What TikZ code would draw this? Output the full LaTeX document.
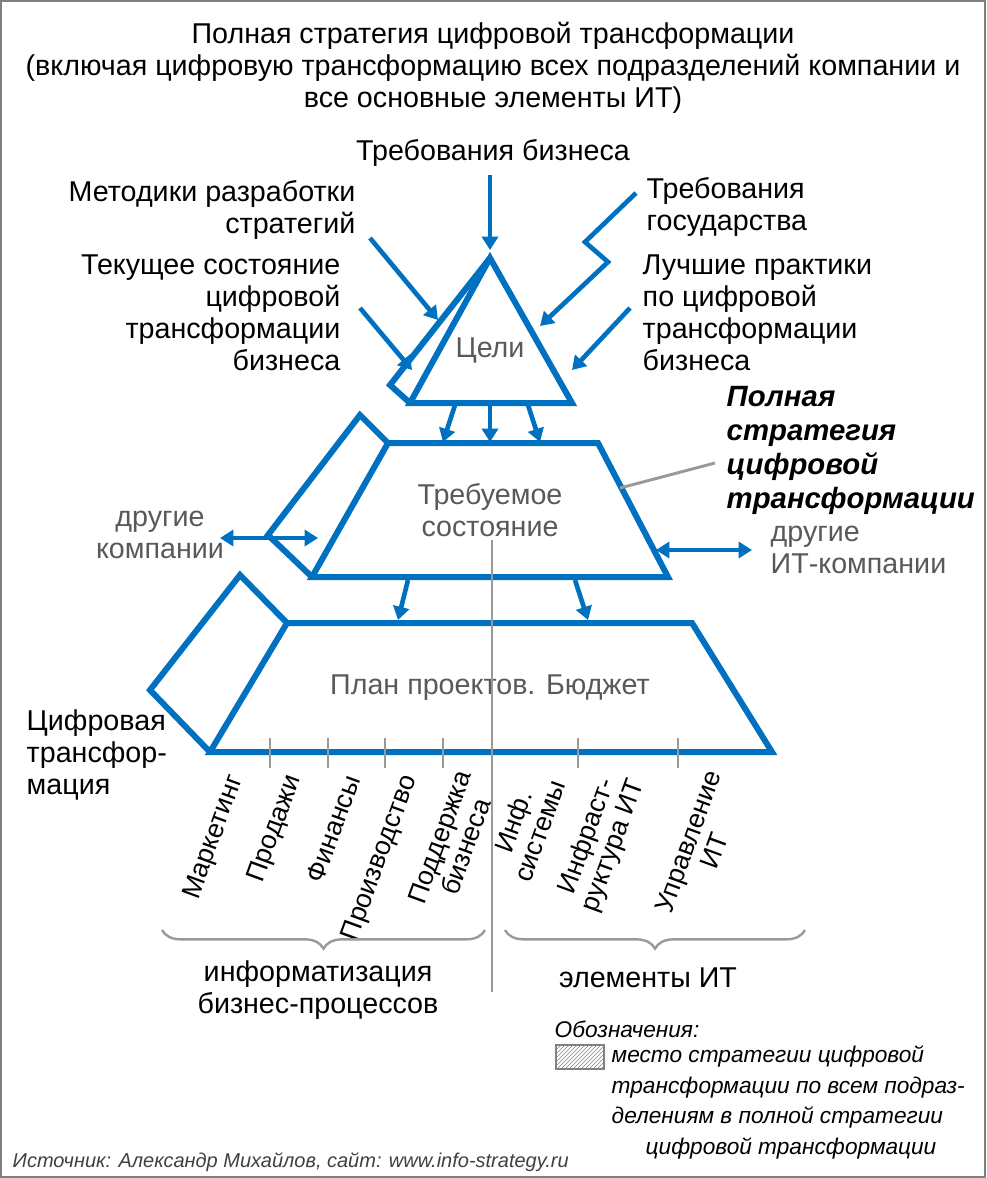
\documentclass[tikz,border=0pt]{standalone}
\usepackage{fontspec}
\setmainfont{Liberation Sans}
\usetikzlibrary{arrows.meta,decorations.pathreplacing,patterns}
\definecolor{bl}{RGB}{0,112,192}
\begin{document}
\begin{tikzpicture}[x=0.75pt,y=-0.75pt,
 shp/.style={draw=bl,line width=4.5pt,line join=miter},
 arr/.style={draw=bl,line width=3.5pt,-{Triangle[length=10pt,width=12pt]}},
 darr/.style={draw=bl,line width=3.5pt,{Triangle[length=10pt,width=12pt]}-{Triangle[length=10pt,width=12pt]}},
 gl/.style={draw=gray!80,line width=2.2pt},
 txt/.style={font=\fontsize{21.5}{24}\selectfont,align=center},
 gtxt/.style={font=\fontsize{21.5}{24}\selectfont,align=center,text=black!65},
 rot/.style={font=\fontsize{20}{21}\selectfont,align=center,rotate=70,anchor=east}]
\draw[gray,line width=0.8pt] (1,1) rectangle (985,1177);
\useasboundingbox (0,0) rectangle (986,1178);
\node[txt] (title) at (493,68) {Полная стратегия цифровой трансформации\\(включая цифровую трансформацию всех подразделений компании и\\все основные элементы ИТ)};
% shapes
\draw[shp] (490,258) -- (410,403) -- (572,403) -- cycle;
\draw[shp] (490,258) -- (390,385) -- (410,403);
\draw[shp] (388,443) -- (598,443) -- (668,577) -- (312,577) -- cycle;
\draw[shp] (388,443) -- (360,415) -- (268,535) -- (312,577);
\draw[shp] (287,623) -- (692,623) -- (772,752) -- (210,752) -- cycle;
\draw[shp] (287,623) -- (240,575) -- (150,690) -- (210,752);
\node[gtxt] (goal) at (490,350) {Цели};
\node[gtxt] (req) at (490,510) {Требуемое\\состояние};
\node[gtxt] (plan) at (490,688) {План проектов. Бюджет};
% gray
\draw[gl] (492,540) -- (492,992);
\foreach \x in {270,328,385,443,578,678}{\draw[gl] (\x,738) -- (\x,768);}
\coordinate (gp1) at (620,488); \coordinate (gp2) at (715,463);
\draw[gl] (gp1) -- (gp2);
% arrows
\node[txt] (tb) at (493,153) {Требования бизнеса};
\draw[arr] (490,175) -- (490,250);
\node[txt,align=right,anchor=east] (met) at (360,210) {Методики разработки\\стратегий};
\node[txt,align=right,anchor=east] (cur) at (345,313) {Текущее состояние\\цифровой\\трансформации\\бизнеса};
\draw[arr] (370,238) -- (438,320);
\draw[arr] (360,308) -- (412,370);
\node[txt,align=left,anchor=west] (gov) at (642,207) {Требования\\государства};
\draw[arr] (636,193) -- (585,242) -- (608,262) -- (540,326);
\node[txt,align=left,anchor=west] (best) at (638,313) {Лучшие практики\\по цифровой\\трансформации\\бизнеса};
\draw[arr] (630,308) -- (572,370);
\draw[arr] (455,405) -- (443,442);
\draw[arr] (490,405) -- (490,442);
\draw[arr] (528,405) -- (540,442);
\draw[arr] (408,580) -- (398,620);
\draw[arr] (575,580) -- (588,620);
\node[gtxt] (oc) at (160,535) {другие\\компании};
\draw[darr] (220,538) -- (318,538);
\node[gtxt,align=left,anchor=west] (oit) at (766,550) {другие\\ИТ-компании};
\draw[darr] (656,550) -- (752,550);
\node[font=\fontsize{22}{25.5}\selectfont\bfseries\itshape,align=left,anchor=west] (full) at (722,450) {Полная\\стратегия\\цифровой\\трансформации};
\node[txt,align=left,anchor=west] (dt) at (22,755) {Цифровая\\трансфор-\\мация};
% bottom labels
\node[rot] at (238,772) {Маркетинг};
\node[rot] at (296,772) {Продажи};
\node[rot] at (354,772) {Финансы};
\node[rot] at (412,772) {Производство};
\node[rot] at (478,772) {Поддержка\\бизнеса};
\node[rot] at (546,772) {Инф.\\системы};
\node[rot] at (626,772) {Инфраст-\\руктура ИТ};
\node[rot] at (728,772) {Управление\\ИТ};
\draw[gray!80,line width=1.8pt,decorate,decoration={brace,amplitude=14pt,mirror}] (162,930) -- (485,930);
\draw[gray!80,line width=1.8pt,decorate,decoration={brace,amplitude=14pt,mirror}] (505,930) -- (805,930);
\node[txt] (inf) at (318,990) {информатизация\\бизнес-процессов};
\node[txt] (eit) at (648,978) {элементы ИТ};
% legend
\node[font=\fontsize{17}{20}\selectfont\itshape,anchor=west] (leg) at (550,1029) {Обозначения:};
\draw[gray,line width=1pt,pattern=north east lines,pattern color=gray] (556,1045) rectangle (604,1069);
\node[font=\fontsize{17}{23}\selectfont\itshape,align=left,anchor=north west] (legt) at (607,1041) {место стратегии цифровой\\трансформации по всем подраз-\\делениям в полной стратегии\\\hspace*{1.5em}цифровой трансформации};
\node[font=\fontsize{15}{17}\selectfont\itshape,text=black!75,anchor=west] (src) at (8,1162) {Источник: Александр Михайлов, сайт: www.info-strategy.ru};
\end{tikzpicture}
\end{document}
